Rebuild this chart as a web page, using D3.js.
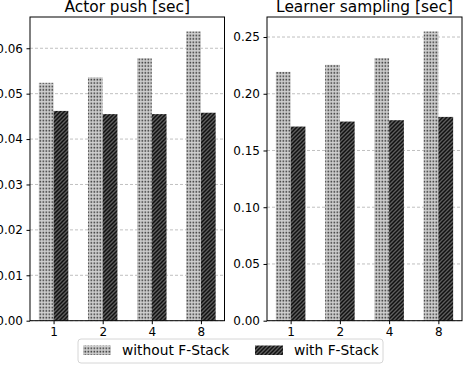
<!DOCTYPE html>
<html><head><meta charset="utf-8">
<script src="https://cdn.jsdelivr.net/npm/d3@7"></script>
<style>body{margin:0;background:#fff}svg{display:block}text{font-family:"DejaVu Sans",sans-serif;fill:#000}</style>
</head><body>
<script>
const categories = ["1","2","4","8"];
const seriesNames = ["without F-Stack","with F-Stack"];
const actorWithout = [0.0524, 0.0536, 0.0578, 0.0637];
const actorWith = [0.0462, 0.0455, 0.0455, 0.0458];
const learnerWithout = [0.2193, 0.2255, 0.2314, 0.2549];
const learnerWith = [0.1711, 0.1755, 0.1767, 0.1796];
const actorTicks = [0.00,0.01,0.02,0.03,0.04,0.05,0.06];
const learnerTicks = [0.00,0.05,0.10,0.15,0.20,0.25];
const titles = ["Actor push [sec]","Learner sampling [sec]"];

(function(){
const W=474,H=381;
const svg=d3.select("body").append("svg").attr("width",W).attr("height",H);
const defs=svg.append("defs");
const pd=defs.append("pattern").attr("id","dots").attr("patternUnits","userSpaceOnUse").attr("width",3).attr("height",3.4);
pd.append("rect").attr("width",3).attr("height",3.4).attr("fill","#d0d0d0");
pd.append("rect").attr("x",0.5).attr("y",0.6).attr("width",1.7).attr("height",1.7).attr("fill","#4a4a4a");
const ph=defs.append("pattern").attr("id","hatch").attr("patternUnits","userSpaceOnUse").attr("width",4).attr("height",4);
ph.append("rect").attr("width",4).attr("height",4).attr("fill","#5e5e5e");
ph.append("path").attr("d","M-1,1 l2,-2 M0,4 l4,-4 M3,5 l2,-2").attr("stroke","#111").attr("stroke-width",1.5);
const fills=["url(#dots)","url(#hatch)"];

const panels=[
 {x0:30,x1:224.5,vals:[actorWithout,actorWith],ticks:actorTicks,fmt:d3.format(".2f"),title:titles[0]},
 {x0:267,x1:462,vals:[learnerWithout,learnerWith],ticks:learnerTicks,fmt:d3.format(".2f"),title:titles[1]}
];
const yTop=17,yBot=320.7,bw=0.3;
panels.forEach(p=>{
  const maxV=d3.max(p.vals.flat())*1.05;
  const y=d3.scaleLinear().domain([0,maxV]).range([yBot,yTop]);
  const x=d3.scaleLinear().domain([-0.48,3.48]).range([p.x0,p.x1]);
  const g=svg.append("g");
  g.selectAll("line.grid").data(p.ticks).join("line")
    .attr("x1",p.x0).attr("x2",p.x1).attr("y1",d=>y(d)).attr("y2",d=>y(d))
    .attr("stroke","#b0b0b0").attr("stroke-width",0.8).attr("stroke-dasharray","3,2");
  p.vals.forEach((s,si)=>{
    g.selectAll("rect.s"+si).data(s).join("rect").attr("class","s"+si)
      .attr("x",(d,i)=>x(i+(si===0?-bw:0)))
      .attr("width",x(bw)-x(0))
      .attr("y",d=>y(d)).attr("height",d=>yBot-y(d))
      .attr("fill",fills[si]);
  });
  const ya=g.append("g").attr("transform",`translate(${p.x0},0)`)
    .call(d3.axisLeft(y).tickValues(p.ticks).tickFormat(p.fmt).tickSize(3.5).tickPadding(3.5));
  ya.select(".domain").remove();
  ya.selectAll("text").style("font-size","12px").style("font-family","DejaVu Sans");
  ya.selectAll("line").attr("stroke","#000");
  const xa=g.append("g").attr("transform",`translate(0,${yBot})`)
    .call(d3.axisBottom(x).tickValues([0,1,2,3]).tickFormat(i=>categories[i]).tickSize(3.5).tickPadding(3.5));
  xa.select(".domain").remove();
  xa.selectAll("text").style("font-size","12px").style("font-family","DejaVu Sans");
  xa.selectAll("line").attr("stroke","#000");
  g.append("rect").attr("x",p.x0).attr("y",yTop).attr("width",p.x1-p.x0).attr("height",yBot-yTop)
    .attr("fill","none").attr("stroke","#000").attr("stroke-width",1);
  g.append("text").attr("x",(p.x0+p.x1)/2).attr("y",12).attr("text-anchor","middle")
    .style("font-size","15.4px").text(p.title);
});
const lg=svg.append("g");
lg.append("rect").attr("x",78).attr("y",339).attr("width",305).attr("height",24).attr("rx",3)
  .attr("fill","#fff").attr("stroke","#d6d6d6").attr("stroke-width",1);
const lx=[83,255];
seriesNames.forEach((n,i)=>{
  lg.append("rect").attr("x",lx[i]).attr("y",345.5).attr("width",28).attr("height",9.5).attr("fill",fills[i]);
  lg.append("text").attr("x",lx[i]+39).attr("y",355).style("font-size","13.8px").text(n);
});
})();
</script>
</body></html>
